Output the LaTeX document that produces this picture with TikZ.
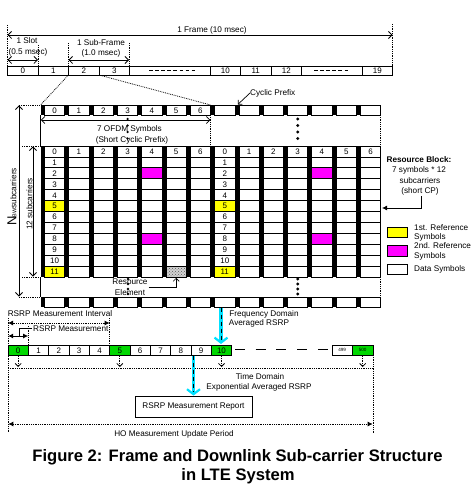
\documentclass[tikz,border=0pt]{standalone}
\usepackage{fontspec}
\setmainfont{Liberation Sans}
\usetikzlibrary{arrows.meta,patterns,calc}
\definecolor{yel}{RGB}{255,255,0}
\definecolor{mag}{RGB}{255,0,255}
\definecolor{grn}{RGB}{0,215,0}
\definecolor{cyn}{RGB}{0,225,255}
\begin{document}
\begin{tikzpicture}[x=1pt,y=-1pt,
  lbl/.style={font=\fontsize{8.2}{9}\selectfont, inner sep=0pt},
  dig/.style={font=\fontsize{8}{8}\selectfont, inner sep=0pt},
  tiny/.style={font=\fontsize{4.6}{4.6}\selectfont, inner sep=0pt},
  cellb/.style={draw=black, fill=white, line width=0.8pt},
  dotl/.style={densely dotted, line width=0.8pt},
  barb/.style={line width=0.8pt, {Straight Barb[length=3.5pt,width=7pt]}-{Straight Barb[length=3.5pt,width=7pt]}},
  onebarb/.style={line width=0.8pt, -{Straight Barb[length=3.5pt,width=7pt]}},
  filled/.style={line width=0.8pt, {Latex[length=5pt,width=5pt]}-{Latex[length=5pt,width=5pt]}},
  cyanarr/.style={draw=cyn, line width=3.6pt, -{Straight Barb[length=5pt,width=13pt,line width=2.2pt]}},
  cyandash/.style={draw=black, line width=1pt, dash pattern=on 4pt off 3pt}
]
\useasboundingbox (0,0) rectangle (474,486);

% ---------- frame row ----------
\foreach \a/\b/\t in {7.5/38/0, 38/68.5/1, 68.5/99/2, 99/129.5/3, 210/240.5/10, 240.5/271/11, 271/301.5/12, 362/392.5/19} {
  \draw[line width=0.8pt] (\a,66) rectangle (\b,75);
  \node[dig] (fr\t) at ({(\a+\b)/2},70.7) {\t};
}
\draw[line width=0.8pt] (129.5,66) rectangle (210,75);
\draw[line width=0.8pt] (301.5,66) rectangle (362,75);
\draw[line width=0.8pt, dash pattern=on 3.5pt off 2.6pt] (149,70.5) -- (196,70.5);
\draw[line width=0.8pt, dash pattern=on 3.5pt off 2.6pt] (314,70.5) -- (348,70.5);

\coordinate (fl) at (7.5,35); \coordinate (frr) at (392.5,35);
\draw[barb] (fl) -- (frr);
\node[lbl] (frame) at (212,30) {1 Frame (10 msec)};
\draw[dotl] (7.5,25) -- (7.5,66);
\draw[dotl] (392.5,24) -- (392.5,75);

\node[lbl] (slot) at (27,41) {1 Slot};
\node[lbl] (slotm) at (28,52) {(0.5 msec)};
\draw[barb] (7.5,60) -- (38,60);
\draw[dotl] (38,45) -- (38,66);

\node[lbl] (sub) at (101,43) {1 Sub-Frame};
\node[lbl] (subm) at (101,53.5) {(1.0 msec)};
\draw[barb] (68.5,60) -- (129,60);
\draw[dotl] (68.5,43) -- (68.5,66);
\draw[dotl] (129.2,43) -- (129.2,66);

% expansion lines
\draw[dotl] (68.5,75) -- (40.5,105);
\draw[dotl] (99,75) -- (210.6,105);

% ---------- resource grid ----------
\foreach \s in {0,1} \foreach \c in {0,...,6} {
  \pgfmathsetmacro\xo{40.5+(7*\s+\c)*24.3}
  \fill[black] (\xo,105) rectangle (\xo+4.2,115);
  \draw[cellb] (\xo+4,105) rectangle (\xo+24.3,115);
  \fill[black] (\xo,146) rectangle (\xo+4.2,277);
  \foreach \r in {0,...,11} {
    \draw[cellb] (\xo+4,146+\r*10.917) rectangle (\xo+24.3,146+\r*10.917+10.917);
  }
  \fill[black] (\xo,297) rectangle (\xo+4.2,307);
  \draw[cellb] (\xo+4,297) rectangle (\xo+24.3,307);
}
% coloured cells
\foreach \s in {0,1} {
  \pgfmathsetmacro\xa{40.5+(7*\s)*24.3+4}
  \pgfmathsetmacro\xb{40.5+(7*\s+4)*24.3+4}
  \foreach \r in {5,11} \draw[cellb, fill=yel] (\xa,146+\r*10.917) rectangle (\xa+20.3,146+\r*10.917+10.917);
  \foreach \r in {2,8} \draw[cellb, fill=mag] (\xb,146+\r*10.917) rectangle (\xb+20.3,146+\r*10.917+10.917);
}
\pgfmathsetmacro\xh{40.5+5*24.3+4}
\draw[cellb, fill=gray!35] (\xh,266.08) rectangle (\xh+20.3,277);
\fill[pattern=crosshatch dots, pattern color=gray!70!black] (\xh,266.08) rectangle (\xh+20.3,277);
\draw[line width=0.8pt] (\xh,266.08) rectangle (\xh+20.3,277);

% labels in the grid
\foreach \c in {0,...,6} {
  \node[dig] at ({40.5+\c*24.3+14.15},110.3) {\c};
  \node[dig] at ({40.5+\c*24.3+14.15},151.7) {\c};
  \node[dig] at ({40.5+(7+\c)*24.3+14.15},151.7) {\c};
}
\foreach \r in {1,...,11} {
  \node[dig] at (54.65,{146+\r*10.917+5.6}) {\r};
  \node[dig] at (224.75,{146+\r*10.917+5.6}) {\r};
}

% bands
\draw[line width=0.8pt] (40.5,115) -- (40.5,146);
\draw[dotl] (380.7,115) -- (380.7,146);
\draw[line width=0.8pt] (40.5,277) -- (40.5,297);
\draw[dotl] (380.7,277) -- (380.7,297);

\draw[barb] (40.8,120) -- (210.4,120);
\draw[dotl] (210.6,115) -- (210.6,146);
\foreach \yy in {119,125.5,132,138.5} \fill (297.7,\yy) circle (1.7);
\foreach \yy in {119,125.5,132,138.5} \fill (127.6,\yy) circle (1.3);
\node[lbl] (ofdm) at (129.5,129) {7 OFDM Symbols};
\node[lbl] (scp) at (132,140.7) {(Short Cyclic Prefix)};

\foreach \yy in {279,284,289,294} \fill (297.7,\yy) circle (1.6);
\foreach \yy in {279,284,289,294} \fill (128,\yy) circle (1.3);
\node[lbl] (re1) at (130,282) {Resource};
\node[lbl] (re2) at (130,293) {Element};
\draw[line width=0.7pt, -{Straight Barb[length=3pt,width=6pt]}] (148.5,287) -- (176.2,287) -- (176.2,277.8);

% cyclic prefix
\node[lbl, anchor=west] (cp) at (250,93) {Cyclic Prefix};
\draw[line width=0.7pt, -{Straight Barb[length=3pt,width=6pt]}] (cp.west) -- (237.8,104.5);

% left dimension arrows
\draw[line width=0.8pt, {Straight Barb[length=3.5pt,width=7pt]}-{Straight Barb[length=3.5pt,width=7pt]}] (19,105.5) -- (19,296.5);
\draw[dotl] (19,105) -- (40.5,105);
\draw[dotl] (19,297) -- (40.5,297);
\draw[line width=0.8pt, {Straight Barb[length=3.5pt,width=7pt]}-{Straight Barb[length=3.5pt,width=7pt]}] (33,146.5) -- (33,276.5);
\draw[dotl] (22,146) -- (40.5,146);
\draw[dotl] (22,277) -- (40.5,277);
\node[rotate=90, inner sep=0pt] (nbw) at (12,197) {{\fontsize{13}{13}\selectfont N}\kern-1pt{\fontsize{5.5}{6}\selectfont BW}{\fontsize{8.2}{9}\selectfont subcarriers}};
\node[lbl, rotate=90] (twelve) at (29.5,204) {12 subcarriers};

% resource block note
\node[lbl, font=\fontsize{8.2}{9}\selectfont\bfseries] (rb) at (419,160) {Resource Block:};
\node[lbl] (rb1) at (419,170.5) {7 symbols * 12};
\node[lbl] (rb2) at (420,180.5) {subcarriers};
\node[lbl] (rb3) at (420,191) {(short CP)};
\draw[line width=0.8pt, -{Latex[length=5pt,width=5pt]}] (421,196) -- (421,208) -- (382,208);

% legend
\draw[line width=0.8pt, fill=yel] (387,227) rectangle (407,237.5);
\node[lbl, anchor=west] (lg1) at (414,227.5) {1st. Reference};
\node[lbl, anchor=west] (lg1b) at (414,237.5) {Symbols};
\draw[line width=0.8pt, fill=mag] (387,245.5) rectangle (407,256);
\node[lbl, anchor=west] (lg2) at (414,245.5) {2nd. Reference};
\node[lbl, anchor=west] (lg2b) at (414,256) {Symbols};
\draw[line width=0.8pt, fill=white] (387,264.5) rectangle (407,274.5);
\node[lbl, anchor=west] (lg3) at (414,269.5) {Data Symbols};

% ---------- measurement row ----------
\foreach \i in {0,...,10} {
  \pgfmathsetmacro\xa{8+\i*20.33}
  \draw[line width=0.8pt, fill=white] (\xa,345) rectangle (\xa+20.33,355);
  \node[dig] (m\i) at (\xa+10.17,350.3) {\i};
}
\foreach \i in {0,5,10} {
  \pgfmathsetmacro\xa{8+\i*20.33}
  \draw[line width=0.8pt, fill=grn] (\xa,345) rectangle (\xa+20.33,355);
  \node[dig] at (\xa+10.17,350.3) {\i};
}
\draw[line width=0.8pt, fill=white] (332,345) rectangle (352.5,355);
\node[tiny] (m499) at (342.2,350) {499};
\draw[line width=0.8pt, fill=grn] (352.5,345) rectangle (373,355);
\node[tiny] (m500) at (362.7,350) {500};
\draw[line width=1.3pt, dash pattern=on 10pt off 10.7pt] (235,349.5) -- (330,349.5);

% RSRP measurement interval
\node[lbl] (rmi) at (60,314) {RSRP Measurement Interval};
\draw[dotl, {Latex[length=5pt,width=5pt]}-{Latex[length=5pt,width=5pt]}] (8,323) -- (109.6,323);
\draw[dotl] (109.7,318) -- (109.7,345);
\draw[dotl] (8,318) -- (8,433);
\node[lbl, anchor=west] (rm) at (33,329) {RSRP Measurement};
\draw[filled] (8.2,336) -- (28.1,336);
\draw[line width=0.7pt] (19,336) -- (19,328.5) -- (32,328.5);
\draw[dotl] (28.3,326) -- (28.3,345);

% small down arrows
\foreach \xx in {18.2,119.8,221.5,362.7}
  \draw[dotl, -{Straight Barb[length=3pt,width=6pt]}] (\xx,356) -- (\xx,367);
\draw[dotl] (8,368) -- (373,368);
\draw[dotl] (373,355) -- (373,433);

\node[lbl] (td1) at (260,377) {Time Domain};
\node[lbl] (td2) at (259,387.5) {Exponential Averaged RSRP};
\node[lbl] (fd1) at (264,314) {Frequency Domain};
\node[lbl] (fd2) at (259,323.5) {Averaged RSRP};

% report box
\node[draw, line width=0.8pt, minimum width=117pt, minimum height=21pt, inner sep=0pt, lbl] (rep) at (193.5,406.5) {RSRP Measurement Report};

% HO period
\draw[dotl, {Latex[length=5pt,width=5pt]}-{Latex[length=5pt,width=5pt]}] (8.3,424) -- (372.7,424);
\node[lbl] (ho) at (174,434) {HO Measurement Update Period};

% cyan arrows
\coordinate (c1a) at (221,307.5); \coordinate (c1b) at (221,344);
\draw[cyanarr] (c1a) -- (c1b);
\draw[cyandash] (c1a) -- ($(c1b)+(0,-4)$);
\coordinate (c2a) at (193.5,355.5);
\draw[cyanarr] (c2a) -- (rep.north -| c2a);
\draw[cyandash] (c2a) -- ($(rep.north -| c2a)+(0,-4)$);

% caption
\node[inner sep=0pt, font=\fontsize{16.6}{18}\selectfont\bfseries] (cap1) at (237.5,457) {Figure 2: Frame and Downlink Sub-carrier Structure};
\node[inner sep=0pt, font=\fontsize{16.6}{18}\selectfont\bfseries] (cap2) at (238,476) {in LTE System};
\end{tikzpicture}
\end{document}
